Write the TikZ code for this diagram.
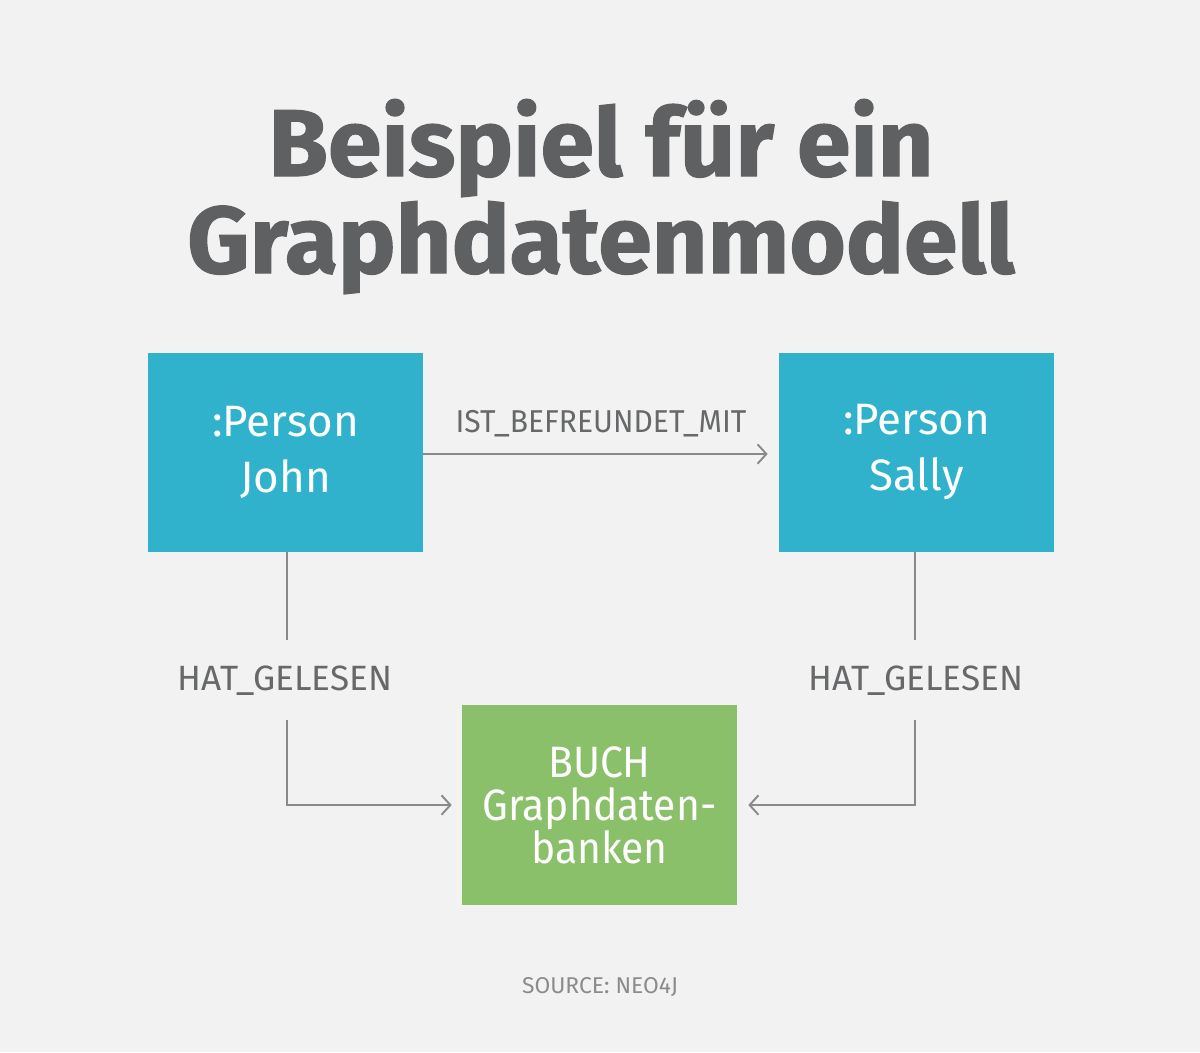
\documentclass[tikz,border=0pt]{standalone}
\usepackage{fontspec}
\setmainfont{Fira Sans}
\newfontfamily\condfont[FakeStretch=0.95]{Fira Sans}
\newfontfamily\bookfont[FakeStretch=0.93]{Fira Sans}
\newfontfamily\titlefont[BoldFeatures={FakeBold=1.2,FakeStretch=1.02}]{Fira Sans}
\usetikzlibrary{arrows.meta}
\definecolor{bg}{HTML}{F2F2F2}
\definecolor{bluebox}{HTML}{30B2CC}
\definecolor{greenbox}{HTML}{8BC06B}
\definecolor{titlegray}{HTML}{5F6062}
\definecolor{labelgray}{HTML}{67686A}
\definecolor{linegray}{HTML}{8A8A8C}
\definecolor{srcgray}{HTML}{8A8B8D}
\begin{document}
\begin{tikzpicture}[x=0.02cm,y=-0.02cm,
  titletext/.style={font=\titlefont\bfseries\fontsize{54}{60}\selectfont, text=titlegray, anchor=base, inner sep=0pt},
  nodebox/.style={minimum width=5.5cm, minimum height=3.98cm, inner sep=0pt, align=center, text=white},
  persontext/.style={font=\fontsize{25}{31.9}\selectfont},
  booktext/.style={font=\bookfont\fontsize{25}{24.5}\selectfont},
  reltext/.style={font=\condfont\fontsize{18}{20}\selectfont, text=labelgray, anchor=base, inner sep=0pt},
  hattext/.style={font=\fontsize{20}{22}\selectfont, text=labelgray, anchor=base, inner sep=0pt},
  conn/.style={draw=linegray, line width=1.1pt},
  arr/.style={conn, -{Straight Barb[length=5pt,width=11pt,line width=1.1pt]}}
]
\fill[bg] (0,0) rectangle (1200,1052);
\useasboundingbox (0,0) rectangle (1200,1052);

\node[titletext] (t1) at (601,176) {Beispiel für ein};
\node[titletext] (t2) at (601,273) {Graphdatenmodell};

\node[nodebox, fill=bluebox, persontext] (john) at (285.5,452.5) {:Person\\John};
\node[nodebox, fill=bluebox, persontext] (sally) at (916.5,452.5) {:Person\\Sally};
\node[nodebox, fill=greenbox, booktext, minimum height=4cm] (book) at (599.5,805) {BUCH\\Graphdaten-\\banken};

\node[reltext] (rel) at (601,432) {IST\_BEFREUNDET\_MIT};
\node[hattext] (h1) at (285,690) {HAT\_GELESEN};
\node[hattext] (h2) at (916,690) {HAT\_GELESEN};

\coordinate (a1) at (287,640);
\coordinate (b1) at (287,720);
\coordinate (a2) at (915,640);
\coordinate (b2) at (915,720);

\draw[arr, shorten >=11*0.569pt] (john.east |- 0,454) -- (sally.west |- 0,454);
\draw[conn] (john.south -| a1) -- (a1);
\draw[arr, shorten >=10*0.569pt] (b1) |- (book.west);
\draw[conn] (sally.south -| a2) -- (a2);
\draw[arr, shorten >=11*0.569pt] (b2) |- (book.east);

\node[font=\fontsize{13}{15}\selectfont, text=srcgray, anchor=base, inner sep=0pt] (src) at (600,993) {SOURCE: NEO4J};
\end{tikzpicture}
\end{document}
